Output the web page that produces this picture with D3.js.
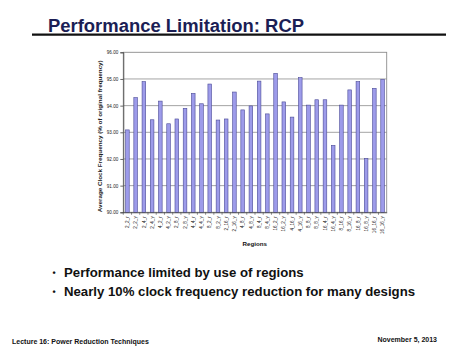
<!DOCTYPE html>
<html>
<head>
<meta charset="utf-8">
<script src="https://cdn.jsdelivr.net/npm/d3@7"></script>
<style>
  html, body { margin: 0; padding: 0; background: #fff; }
  svg { display: block; font-family: "Liberation Sans", Arial, Helvetica, sans-serif; }
</style>
</head>
<body>
<svg id="chart" width="474" height="355"></svg>
<script>
const categories = ["2_2_r","2_2_y","2_4_r","2_4_y","4_2_r","4_2_y","2_8_r","2_8_y",
  "4_4_r","4_4_y","8_2_r","8_2_y","2_16_r","2_16_y","4_8_r","4_8_y",
  "8_4_r","8_4_y","16_2_r","16_2_y","4_16_r","4_16_y","8_8_r","8_8_y",
  "16_4_r","16_4_y","8_16_r","8_16_y","16_8_r","16_8_y","16_16_r","16_16_y"];
const values = [93.09, 94.30, 94.90, 93.47, 94.17, 93.32, 93.50, 93.90,
  94.46, 94.07, 94.81, 93.46, 93.50, 94.51, 93.84, 93.99,
  94.92, 93.69, 95.21, 94.14, 93.57, 95.05, 94.02, 94.22,
  94.22, 92.51, 94.02, 94.59, 94.90, 92.02, 94.65, 94.98];
const yTicks = [90, 91, 92, 93, 94, 95, 96];
const titleText = "Performance Limitation: RCP";
const yAxisTitle = "Average Clock Frequency (% of original frequency)";
const xAxisTitle = "Regions";
const bullets = ["Performance limited by use of regions",
  "Nearly 10% clock frequency reduction for many designs"];
const footerLeft = "Lecture 16: Power Reduction Techniques";
const footerRight = "November 5, 2013";

const svg = d3.select("#chart");

// Title
svg.append("text").attr("x", 48).attr("y", 31.5)
  .attr("font-size", 19.2).attr("font-weight", "bold").attr("fill", "#1b1e55")
  .attr("textLength", 256).attr("lengthAdjust", "spacingAndGlyphs")
  .text(titleText);
svg.append("line").attr("x1", 32).attr("x2", 446).attr("y1", 34.6).attr("y2", 34.6)
  .attr("stroke", "#111").attr("stroke-width", 2.2);

// Plot area
const L = 123.3, R = 386.7, T = 52.3, B = 212.3;
const x = d3.scaleBand().domain(categories).range([L, R]).paddingInner(0.56).paddingOuter(0.28);
const y = d3.scaleLinear().domain([90, 96]).range([B, T]);

const g = svg.append("g");
g.selectAll("line.grid").data(yTicks.filter(t => t > 90 && t < 96)).join("line")
  .attr("class", "grid").attr("x1", L).attr("x2", R)
  .attr("y1", d => y(d)).attr("y2", d => y(d))
  .attr("stroke", "#9a9a9a").attr("stroke-width", 0.9);
g.append("rect").attr("x", L).attr("y", T).attr("width", R - L).attr("height", B - T)
  .attr("fill", "none").attr("stroke", "#8c8c8c").attr("stroke-width", 0.9);

g.selectAll("rect.bar").data(values).join("rect")
  .attr("class", "bar")
  .attr("x", (d, i) => x(categories[i]))
  .attr("width", x.bandwidth())
  .attr("y", d => y(d))
  .attr("height", d => B - y(d))
  .attr("fill", "#9d9bea").attr("stroke", "#4a4a96").attr("stroke-width", 0.6);

const yAxis = d3.axisLeft(y).tickValues(yTicks).tickSize(3).tickFormat(d3.format(".2f"));
const ya = svg.append("g").attr("transform", `translate(${L},0)`).call(yAxis);
ya.select(".domain").attr("stroke", "#444").attr("stroke-width", 0.8);
ya.selectAll(".tick line").attr("stroke", "#444").attr("stroke-width", 0.8);
ya.selectAll(".tick text").attr("font-size", 4.6).attr("fill", "#222")
  .attr("x", -5).attr("font-family", "Liberation Sans, Arial, sans-serif");

const xAxis = d3.axisBottom(x).tickSize(0).tickSizeOuter(0);
const xa = svg.append("g").attr("transform", `translate(0,${B})`).call(xAxis);
xa.select(".domain").attr("stroke", "#444").attr("stroke-width", 0.8);
xa.selectAll(".tick text")
  .attr("font-size", 4.6).attr("fill", "#222")
  .attr("font-family", "Liberation Sans, Arial, sans-serif")
  .attr("text-anchor", "end")
  .attr("dy", "0.35em")
  .attr("transform", "translate(0,4) rotate(-90)")
  .attr("x", 0).attr("y", 0);
svg.append("g").selectAll("line").data(categories).join("line")
  .attr("x1", d => x(d) - x.step() * x.paddingInner() / 2)
  .attr("x2", d => x(d) - x.step() * x.paddingInner() / 2)
  .attr("y1", B).attr("y2", B + 2.5).attr("stroke", "#444").attr("stroke-width", 0.6);

svg.append("text")
  .attr("transform", `translate(101.5,${(T + B) / 2 + 4}) rotate(-90)`)
  .attr("text-anchor", "middle").attr("font-size", 5.6).attr("font-weight", "bold")
  .attr("fill", "#222")
  .attr("textLength", 152).attr("lengthAdjust", "spacingAndGlyphs")
  .text(yAxisTitle);
svg.append("text").attr("x", 254.7).attr("y", 246)
  .attr("text-anchor", "middle").attr("font-size", 6.2).attr("font-weight", "bold")
  .attr("fill", "#111").text(xAxisTitle);

bullets.forEach((b, i) => {
  const yy = 276.5 + i * 19;
  svg.append("text").attr("x", 52.5).attr("y", yy - 0.5).attr("font-size", 9)
    .attr("font-weight", "bold").attr("fill", "#111").text("•");
  svg.append("text").attr("x", 64).attr("y", yy).attr("font-size", 13.2)
    .attr("font-weight", "bold").attr("fill", "#111").text(b);
});

svg.append("text").attr("x", 12).attr("y", 344).attr("font-size", 7)
  .attr("font-weight", "bold").attr("fill", "#111").text(footerLeft);
svg.append("text").attr("x", 437).attr("y", 342).attr("font-size", 7)
  .attr("text-anchor", "end")
  .attr("font-weight", "bold").attr("fill", "#111").text(footerRight);
</script>
</body>
</html>
